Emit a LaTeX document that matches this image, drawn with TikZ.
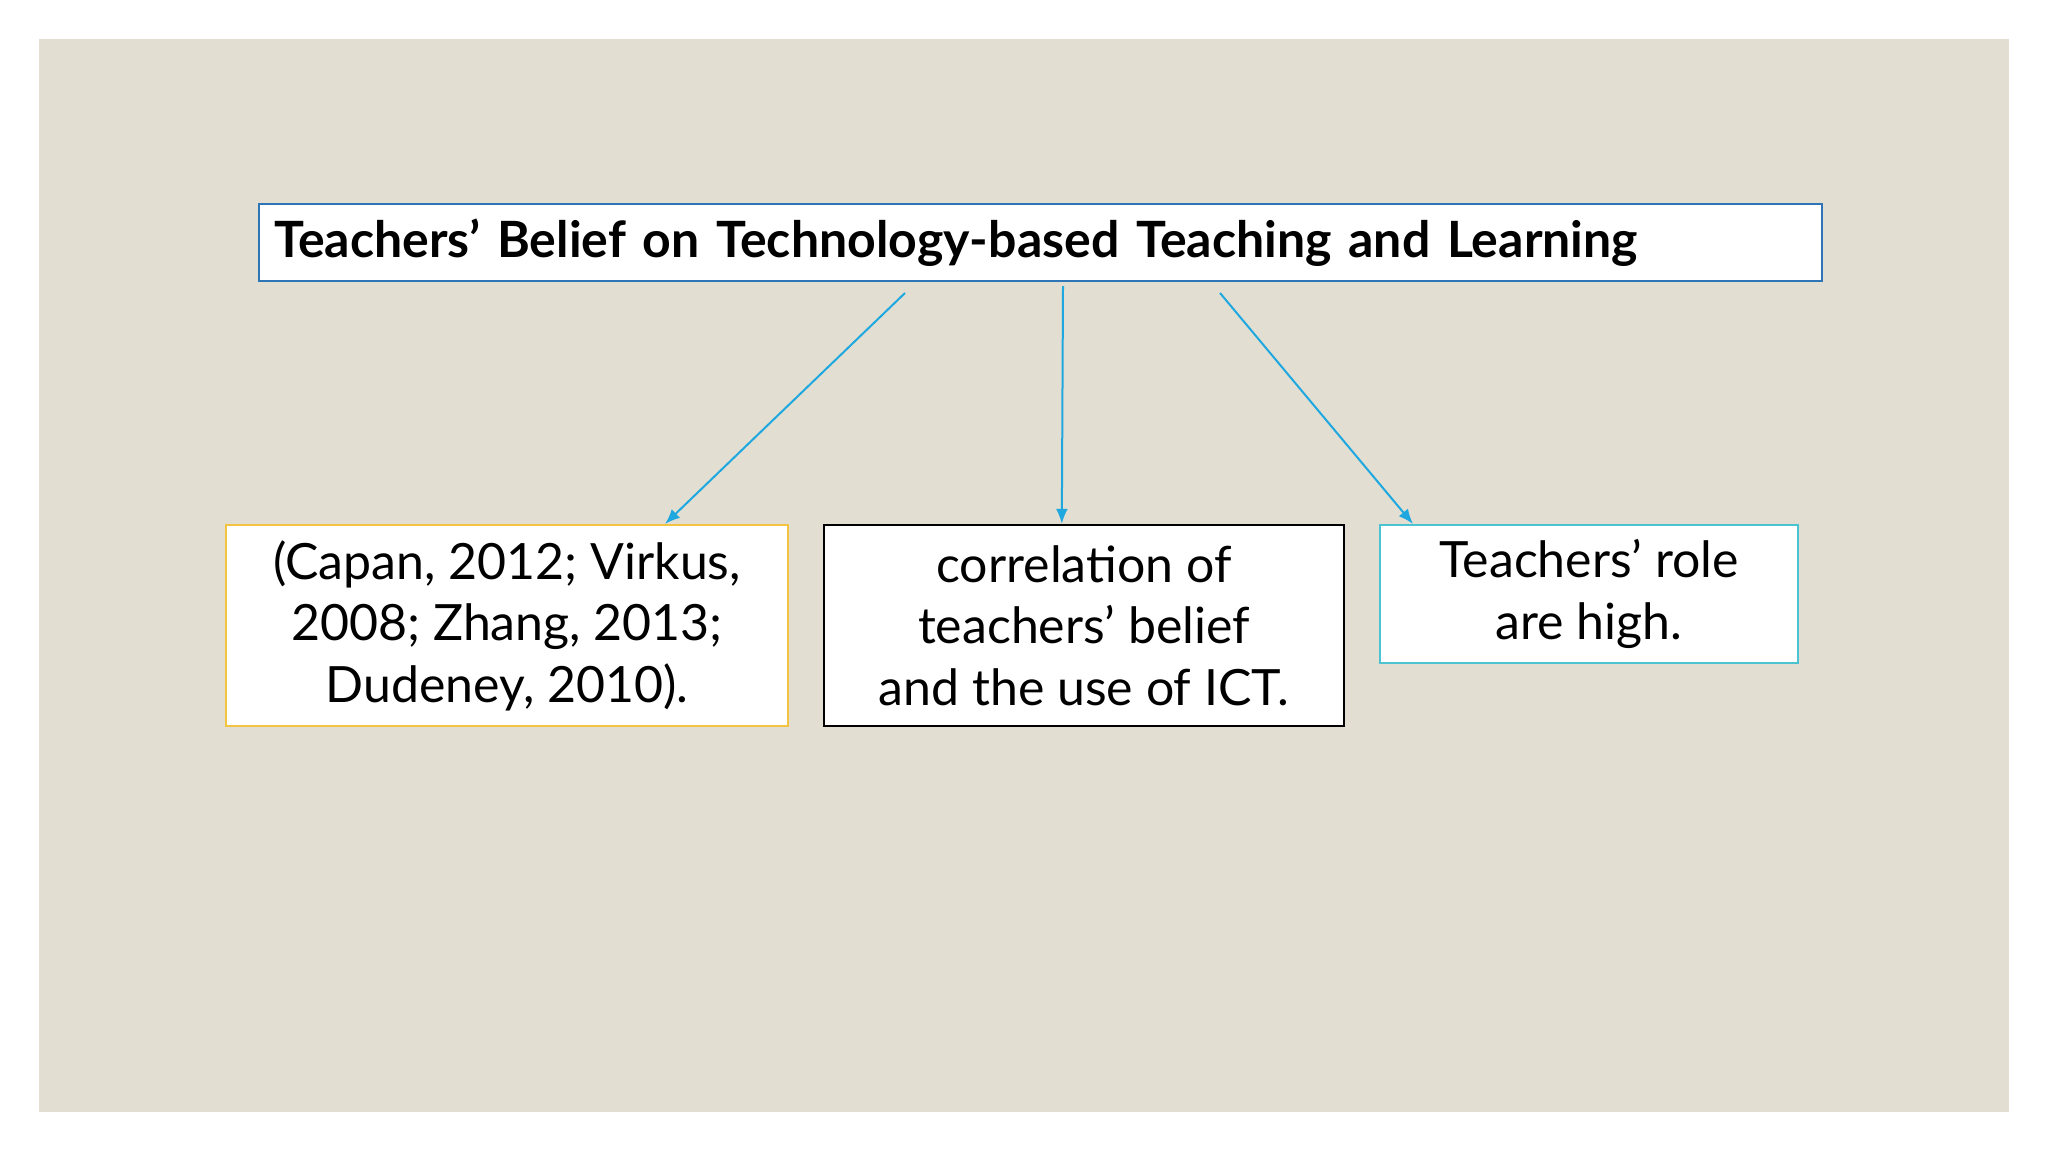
\documentclass[tikz,border=0pt]{standalone}
\usepackage{fontspec}
\setmainfont{Lato}
\usetikzlibrary{calc}
\usetikzlibrary{arrows.meta}
\definecolor{slidebg}{HTML}{E2DED2}
\definecolor{titleblue}{HTML}{2E75B6}
\definecolor{citegold}{HTML}{F5C342}
\definecolor{rolecyan}{HTML}{4BC3D3}
\definecolor{arrowblue}{HTML}{1FA8E0}

\begin{document}
\begin{tikzpicture}[x=0.5pt,y=-0.5pt,
  every node/.style={fill=white,inner sep=0pt,line width=1pt,font=\fontsize{25}{30.7}\selectfont},
  box/.style={draw,align=center,minimum height=100.5pt},
  arr/.style={draw=arrowblue,line width=1pt,-{Latex[length=7.5pt,width=6pt]}}]

\useasboundingbox (0,0) rectangle (2048,1152);
\fill[white] (0,0) rectangle (2048,1152);
\fill[slidebg] (39,39) rectangle (2009,1112);

\node[draw=titleblue,minimum height=38.5pt,text width=766.5pt,inner xsep=7.5pt,align=left,font=\fontsize{25}{30.7}\selectfont\bfseries] (title) at (1040.5,242.5) {Teachers’ Belief on Technology-based Teaching and Learning};

\node[box,draw=citegold,minimum width=281pt] (cite) at (507,625.5) {(Capan, 2012; Virkus,\\2008; Zhang, 2013;\\Dudeney, 2010).};
\node[box,draw=black,line width=1.2pt,minimum width=260pt] (corr) at (1084,625.5) {correlation of\\teachers’ belief\\and the use of ICT.};
\node[box,draw=rolecyan,minimum width=209pt,minimum height=69pt] (role) at (1589,594) {Teachers’ role\\are high.};

\coordinate (s1) at (905,293);
\coordinate (s2) at (1063,286);
\coordinate (s3) at (1220,293);
\draw[arr] (s1) -- ($(cite.north west)+(440,0)$);
\draw[arr] (s2) -- ($(corr.north west)+(239,0)$);
\draw[arr] (s3) -- ($(role.north west)+(34,0)$);

\end{tikzpicture}
\end{document}
